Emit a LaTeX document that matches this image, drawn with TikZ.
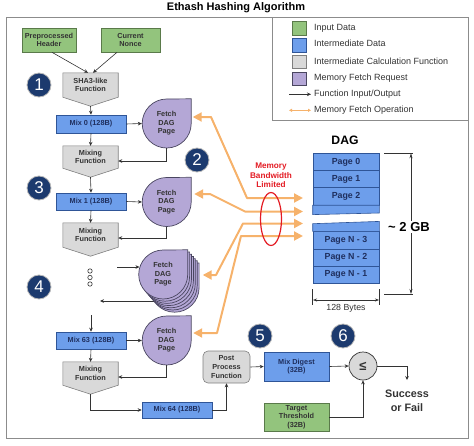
\documentclass[tikz,border=0pt]{standalone}
\usepackage{fontspec}
\setmainfont{Liberation Sans}
\usetikzlibrary{arrows.meta,calc,shapes.geometric}
\pgfdeclarelayer{bg}
\pgfsetlayers{bg,main}
\definecolor{gfill}{HTML}{93C47D}
\definecolor{gdraw}{HTML}{5A7A4A}
\definecolor{bfill}{HTML}{6D9EEB}
\definecolor{bdraw}{HTML}{2F5597}
\definecolor{grfill}{HTML}{D9D9D9}
\definecolor{grdraw}{HTML}{7F7F7F}
\definecolor{pfill}{HTML}{B4A7D6}
\definecolor{pdraw}{HTML}{4A4660}
\definecolor{navy}{HTML}{1C3A6E}
\definecolor{navytext}{HTML}{1F2F5E}
\definecolor{orng}{HTML}{F6B26B}
\definecolor{framec}{HTML}{8C8C8C}
\definecolor{txt}{HTML}{333333}
\definecolor{redc}{HTML}{E31B23}
\tikzset{
  txtb/.style={font=\fontsize{7.3}{8.6}\selectfont\bfseries, align=center, text=txt, inner sep=0pt},
  inbox/.style={txtb, fill=gfill, draw=gdraw, line width=0.6pt},
  mixbox/.style={txtb, fill=bfill, draw=bdraw, line width=0.6pt, text=navytext, minimum width=70, minimum height=17},
  fnbox/.style={txtb, minimum width=55},
  fetchn/.style={txtb, minimum width=49, minimum height=49},
  fetchsty/.style={fill=pfill, draw=pdraw, line width=0.7pt},
  funcsty/.style={fill=grfill, draw=grdraw, line width=0.6pt},
  numc/.style={circle, fill=navy, draw=gray!55, line width=0.8pt, minimum size=24, inner sep=0pt, text=white, font=\fontsize{17}{17}\selectfont},
  conn/.style={draw=txt, line width=0.6pt, -{Stealth[length=4pt,width=3.6pt]}},
  mem/.style={draw=orng, line width=2pt, line join=round, {Triangle[length=9pt,width=9pt]}-{Triangle[length=9pt,width=9pt]}},
  pagesty/.style={fill=bfill, draw=bdraw, line width=0.6pt},
  pagen/.style={pagesty, font=\fontsize{8.8}{10}\selectfont\bfseries, text=navytext, minimum width=66, minimum height=17.2, inner sep=0pt},
  legsq/.style={minimum size=13.5, inner sep=0pt, line width=0.6pt},
  legtext/.style={anchor=west, font=\fontsize{9}{10}\selectfont, text=txt, inner sep=0pt, text height=6.5pt, text depth=1.9pt},
}
\newcommand\mixshape[1]{%
  \coordinate (#1-tip) at ($(#1.south)+(0,9)$);
  \begin{pgfonlayer}{bg}
  \filldraw[funcsty] (#1.north west) -- (#1.north east) -- (#1.south east) -- (#1-tip) -- (#1.south west) -- cycle;
  \end{pgfonlayer}}
\newcommand\fetchshape[1]{%
  \begin{pgfonlayer}{bg}
  \filldraw[fetchsty] (#1.north east) -- (#1.east) arc[start angle=0,end angle=270,radius=24.5] -- cycle;
  \end{pgfonlayer}}
\begin{document}
\begin{tikzpicture}[x=1pt,y=-1pt]
\useasboundingbox (0,0) rectangle (474,445);
% frame and title
\draw[framec, line width=0.8pt] (6,17) rectangle (468,438);
\draw[framec, line width=0.8pt] (272,17) rectangle (468,120);
\node[font=\fontsize{11}{12}\selectfont\bfseries, inner sep=0pt] (title) at (236,8) {Ethash Hashing Algorithm};
% legend
\node[legsq, fill=gfill, draw=gdraw] (lg1) at (299.5,28.5) {};
\node[legsq, fill=bfill, draw=bdraw] (lg2) at (299.5,45.3) {};
\node[legsq, fill=grfill, draw=grdraw] (lg3) at (299.5,62) {};
\node[legsq, fill=pfill, draw=pdraw] (lg4) at (299.5,78.8) {};
\node[legtext] (lt1) at (314,28.5) {Input Data};
\node[legtext] (lt2) at (314,44.3) {Intermediate Data};
\node[legtext] (lt3) at (314,62) {Intermediate Calculation Function};
\node[legtext] (lt4) at (314,78) {Memory Fetch Request};
\node[legtext] (lt5) at (314,94.3) {Function Input/Output};
\node[legtext] (lt6) at (314,110.3) {Memory Fetch Operation};
\coordinate (la1) at (289,94.3); \coordinate (la2) at (311,94.3);
\coordinate (lb1) at (289,110.3); \coordinate (lb2) at (311,110.3);
\draw[conn] (la1) -- (la2);
\draw[orng, line width=0.8pt, {Triangle[length=3pt,width=3pt]}-{Triangle[length=3pt,width=3pt]}] (lb1) -- (lb2);
% inputs
\node[inbox, minimum width=54, minimum height=24] (g1) at (49,40) {Preprocessed\\Header};
\node[inbox, minimum width=59, minimum height=24] (g2) at (130.5,40) {Current\\Nonce};
\node[fnbox, minimum height=24] (sha) at (90.5,85) {SHA3-like\\Function}; \mixshape{sha}
\node[mixbox, minimum height=18] (m0) at (91,124) {Mix 0 (128B)};
\node[fetchn] (f1) at (166.5,123.5) {Fetch\\DAG\\Page}; \fetchshape{f1}
\node[fnbox, minimum height=22] (mx1) at (90.5,157) {Mixing\\Function}; \mixshape{mx1}
\node[mixbox] (m1) at (91,201.5) {Mix 1 (128B)};
\node[fetchn] (f2) at (166.5,202) {Fetch\\DAG\\Page}; \fetchshape{f2}
\node[fnbox, minimum height=24] (mx2) at (90.5,235) {Mixing\\Function}; \mixshape{mx2}
\node[circle, draw=txt, line width=0.6pt, fill=white, minimum size=4.4, inner sep=0pt] (d1) at (90,271) {};
\node[circle, draw=txt, line width=0.6pt, fill=white, minimum size=4.4, inner sep=0pt] (d2) at (90,277.5) {};
\node[circle, draw=txt, line width=0.6pt, fill=white, minimum size=4.4, inner sep=0pt] (d3) at (90,284) {};
% stacked fetch
\node[fetchn] (s) at (163,274.5) {Fetch\\DAG\\Page};
\coordinate (sout) at (100,301);
\begin{pgfonlayer}{bg}
\draw[conn] (s.center |- sout) -- (sout);
\foreach \o in {6,5,4,3,2,1}{
  \filldraw[fetchsty] ($(s.north east)+(1.9*\o,2.2*\o)$) -- ($(s.east)+(1.9*\o,2.2*\o)$) arc[start angle=0,end angle=270,radius=24.5] -- cycle;
}
\end{pgfonlayer}
\fetchshape{s}
\coordinate (sin) at (117,267);
\draw[conn] (sin) -- ($(s.west)+(1.2,-7.5)$);
\node[mixbox] (m63) at (91,340.5) {Mix 63 (128B)};
\coordinate (m63in) at (91,315);
\node[fetchn] (f4) at (166.5,340.5) {Fetch\\DAG\\Page}; \fetchshape{f4}
\node[fnbox, minimum height=23] (mx3) at (90.5,373.5) {Mixing\\Function}; \mixshape{mx3}
\node[mixbox, minimum height=16] (m64) at (177,410) {Mix 64 (128B)};
\node[txtb, fill=grfill, draw=grdraw, line width=0.6pt, rounded corners=5pt, minimum width=47, minimum height=32] (post) at (226.5,367) {Post\\Process\\Function};
\node[mixbox, minimum width=65, minimum height=29] (dig) at (296.5,366.5) {Mix Digest\\(32B)};
\node[circle, fill=grfill, draw=txt, line width=0.7pt, minimum size=28, inner sep=0pt, font=\fontsize{13}{13}\selectfont\bfseries, text=txt] (le) at (363,366) {≤};
\node[inbox, minimum width=65, minimum height=28] (tgt) at (296.5,417) {Target\\Threshold\\(32B)};
\node[font=\fontsize{10.8}{14}\selectfont\bfseries, align=center, inner sep=0pt, anchor=north, text=txt] (succ) at (407,390) {Success\\or Fail};
% numbered circles
\node[numc] (c1) at (39,85) {1};
\node[numc] (c2) at (197,160) {2};
\node[numc] (c3) at (39,188) {3};
\node[numc] (c4) at (39,287) {4};
\node[numc] (c5) at (260,336) {5};
\node[numc] (c6) at (343,336) {6};
% connectors
\draw[conn] ([xshift=3pt]g1.south) -- ([xshift=-2.5pt]sha.north);
\draw[conn] ([xshift=-13.5pt]g2.south) -- ([xshift=2.5pt]sha.north);
\draw[conn] (sha-tip) -- (m0.north);
\draw[conn] (m0.east) -- (f1.west);
\draw[conn] (f1.south) |- ($(mx1.east)+(0,4)$);
\draw[conn] (m0.south) -- (mx1.north);
\draw[conn] (mx1-tip) -- (m1.north);
\draw[conn] (m1.east) -- (f2.west);
\draw[conn] (f2.south) |- ($(mx2.east)+(0,3)$);
\draw[conn] (m1.south) -- (mx2.north);
\draw[conn] (m63in) -- (m63.north);
\draw[conn] (m63.east) -- (f4.west);
\draw[conn] (f4.south) |- ($(mx3.east)+(0,3.5)$);
\draw[conn] (m63.south) -- (mx3.north);
\draw[conn] (mx3-tip) |- (m64.west);
\draw[conn] (m64.east) -| (post.south);
\draw[conn] (post.east) -- (dig.west);
\draw[conn] (dig.east) -- (le.west);
\draw[conn] (le.east) -| ([yshift=10pt]succ.north);
\draw[conn] (tgt.east) -| (le.south);
% DAG
\node[font=\fontsize{12.2}{13}\selectfont\bfseries, inner sep=0pt] (dagt) at (345,140) {DAG};
\node[pagen] (p0) at (346,161.9) {Page 0};
\node[pagen] (p1) at (346,179.1) {Page 1};
\node[pagen] (p2) at (346,196.3) {Page 2};
\filldraw[pagesty] (p2.south west) -- (p2.south east) -- ($(p2.south east)+(0,7.8)$) -- ($(p2.south west)+(0,9.4)$) -- cycle;
\node[pagen] (pn3) at (346,240.3) {Page N - 3};
\node[pagen] (pn2) at (346,257.5) {Page N - 2};
\node[pagen] (pn1) at (346,274.7) {Page N - 1};
\filldraw[pagesty] (pn3.north west) -- (pn3.north east) -- ($(pn3.north east)+(0,-10)$) -- ($(pn3.north west)+(0,-7.7)$) -- cycle;
\draw[txt, line width=0.6pt] (384,153.3) -- (413,153.3);
\draw[txt, line width=0.6pt] (384,294) -- (413,294);
\draw[txt, line width=0.6pt, {Stealth[length=5pt,width=3pt]}-{Stealth[length=5pt,width=3pt]}] (411,153.3) -- (411,294);
\node[fill=white, inner sep=1.5pt, font=\fontsize{13}{14}\selectfont\bfseries] (gb) at (409,227) {\textasciitilde{} 2 GB};
\draw[txt, line width=0.6pt] (pn1.south west |- 0,289) -- (pn1.south west |- 0,305);
\draw[txt, line width=0.6pt] (pn1.south east |- 0,289) -- (pn1.south east |- 0,305);
\draw[txt, line width=0.6pt, {Stealth[length=4pt,width=3pt]}-{Stealth[length=4pt,width=3pt]}] (313,300) -- (379,300);
\node[font=\fontsize{8.8}{10}\selectfont, text=txt, inner sep=0pt] (bytes) at (346,308.5) {128 Bytes};
% memory fetch operations
\coordinate (dA) at (303,198);
\coordinate (dB) at (303,211.5);
\coordinate (dC) at (303,223.5);
\coordinate (dD) at (303,236);
\draw[mem] ($(f1.east)+(1.5,-6.5)$) -- (211,117) -- (247,198) -- (dA);
\draw[mem] ($(f2.east)+(3,-8)$) -- (210,194) -- (245,211.5) -- (dB);
\draw[mem] ($(s.east)+(15,0.5)$) -- (216,275) -- (243,223.5) -- (dC);
\draw[mem] ($(f4.east)+(2,-7.5)$) -- (217,333) -- (241,236) -- (dD);
\draw[redc, line width=1.2pt] (271,219) ellipse [x radius=10.5, y radius=26.5];
\node[font=\fontsize{8.2}{9.3}\selectfont\bfseries, text=redc, align=center, inner sep=0pt] (mbl) at (271,175.5) {Memory\\Bandwidth\\Limited};
\end{tikzpicture}
\end{document}
